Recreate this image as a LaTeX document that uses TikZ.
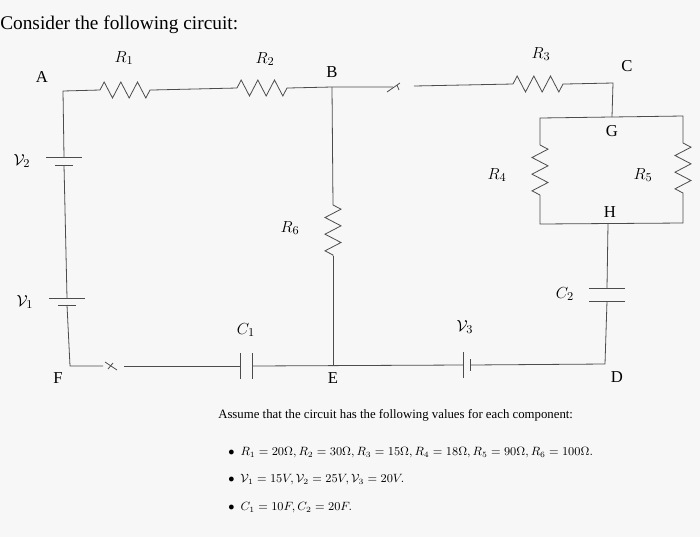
\documentclass[tikz,border=0pt]{standalone}
\usepackage{fontspec}
\setmainfont{Liberation Serif}
\usetikzlibrary{decorations.pathmorphing}
\begin{document}
\begin{tikzpicture}[x=0.75pt,y=-0.75pt,
  wire/.style={draw=black!70,line width=0.6pt},
  res/.style={wire,decorate,decoration={zigzag,segment length=12.5pt,amplitude=6pt}},
  lbl/.style={font=\fontsize{12.5}{14}\selectfont,inner sep=0pt},
  txt/.style={font=\fontsize{9.1}{12}\selectfont,inner sep=0pt,anchor=west}]
\useasboundingbox (0,0) rectangle (700,537);
\fill[white!94!gray] (0,0) rectangle (700,537);
% coordinates
\coordinate (A) at (63,91);
\coordinate (r1a) at (100,90); \coordinate (r1b) at (152,90);
\coordinate (r2a) at (237,88); \coordinate (r2b) at (288,88);
\coordinate (B) at (332,87);
\coordinate (s1) at (393,87);
\coordinate (s1b) at (414,86);
\coordinate (r3a) at (513,84); \coordinate (r3b) at (565,84);
\coordinate (C) at (613,83);
\coordinate (G) at (612,117);
\coordinate (GL) at (540,118); \coordinate (GR) at (683,116);
\coordinate (r4a) at (540,145); \coordinate (r4b) at (540,195);
\coordinate (r5a) at (683,143); \coordinate (r5b) at (683,195);
\coordinate (HL) at (540,224); \coordinate (HR) at (683,223);
\coordinate (H) at (608,224);
\coordinate (c2a) at (607,288); \coordinate (c2b) at (607,301);
\coordinate (D) at (605,364);
\coordinate (E) at (333,366);
\coordinate (F) at (70,366);
\coordinate (s2) at (103,366); \coordinate (s2b) at (124,366);
\coordinate (c1a) at (240,366); \coordinate (c1b) at (252,366);
\coordinate (v3a) at (463,365); \coordinate (v3b) at (470,365);
\coordinate (r6a) at (333,205); \coordinate (r6b) at (333,256);
\coordinate (v2a) at (64,157); \coordinate (v2b) at (64,165);
\coordinate (v1a) at (67,298); \coordinate (v1b) at (67,305);
% wires
\draw[wire] (r1a) -- (A) -- (v2a);
\draw[res] (r1a) -- (r1b);
\draw[wire] (r1b) -- (r2a);
\draw[res] (r2a) -- (r2b);
\draw[wire] (r2b) -- (B) -- (s1);
\draw[wire] (s1) ++(-6,5) -- ++(13,-9);
\draw[wire] (s1) ++(4,-2) -- ++(2,5);
\draw[wire] (s1b) -- (r3a);
\draw[res] (r3a) -- (r3b);
\draw[wire] (r3b) -- (C) -- (G);
\draw[wire] (r4a) -- (GL) -- (GR) -- (r5a);
\draw[res] (r4a) -- (r4b);
\draw[res] (r5a) -- (r5b);
\draw[wire] (r4b) -- (HL) -- (HR) -- (r5b);
\draw[wire] (H) -- (c2a);
\draw[wire] (c2a) ++(-18,0) -- ++(36,0);
\draw[wire] (c2b) ++(-18,0) -- ++(36,0);
\draw[wire] (c2b) -- (D) -- (v3b);
\draw[wire] (v3a) ++(0,-13) -- ++(0,26);
\draw[wire] (v3b) ++(0,-6) -- ++(0,12);
\draw[wire] (v3a) -- (c1b);
\draw[wire] (c1a) ++(0,-13) -- ++(0,26);
\draw[wire] (c1b) ++(0,-13) -- ++(0,26);
\draw[wire] (c1a) -- (s2b);
\draw[wire] (s2) ++(2,-4) -- ++(12,8);
\draw[wire] (s2) ++(10,-3) -- ++(-5,6);
\draw[wire] (B) -- (r6a);
\draw[res] (r6a) -- (r6b);
\draw[wire] (r6b) -- (E);
\draw[wire] (s2) -- (F) -- (v1b);
\draw[wire] (v1b) ++(-9,0) -- ++(18,0);
\draw[wire] (v1a) ++(-18,0) -- ++(36,0);
\draw[wire] (v1a) -- (v2b);
\draw[wire] (v2b) ++(-9,0) -- ++(18,0);
\draw[wire] (v2a) ++(-18,0) -- ++(36,0);
% labels
\node[txt,font=\fontsize{14.5}{16}\selectfont] (title) at (0,25) {Consider the following circuit:};
\node[lbl] (lA) at (42,77) {A};
\node[lbl] (lR1) at (124,58) {$R_1$};
\node[lbl] (lR2) at (265,59) {$R_2$};
\node[lbl] (lB) at (332,72) {B};
\node[lbl] (lR3) at (541,54) {$R_3$};
\node[lbl] (lC) at (627,66) {C};
\node[lbl] (lG) at (612,131) {G};
\node[lbl] (lR4) at (497,175) {$R_4$};
\node[lbl] (lR5) at (643,175) {$R_5$};
\node[lbl] (lH) at (610,212) {H};
\node[lbl] (lR6) at (290,228) {$R_6$};
\node[lbl] (lC2) at (565,294) {$C_2$};
\node[lbl] (lV2) at (22,161) {$\mathcal{V}_2$};
\node[lbl] (lV1) at (25,302) {$\mathcal{V}_1$};
\node[lbl] (lC1) at (246,330) {$C_1$};
\node[lbl] (lV3) at (465,327) {$\mathcal{V}_3$};
\node[lbl] (lF) at (58,378) {F};
\node[lbl] (lE) at (333,378) {E};
\node[lbl] (lD) at (617,377) {D};
\node[txt,font=\fontsize{9.6}{12}\selectfont] (assume) at (218,415) {Assume that the circuit has the following values for each component:};
\node[txt] (b1) at (228,453) {$\bullet$\ \ $R_1=20\Omega, R_2=30\Omega, R_3=15\Omega, R_4=18\Omega, R_5=90\Omega, R_6=100\Omega.$};
\node[txt] (b2) at (228,480) {$\bullet$\ \ $\mathcal{V}_1=15V, \mathcal{V}_2=25V, \mathcal{V}_3=20V.$};
\node[txt] (b3) at (228,508) {$\bullet$\ \ $C_1=10F, C_2=20F.$};
\end{tikzpicture}
\end{document}
